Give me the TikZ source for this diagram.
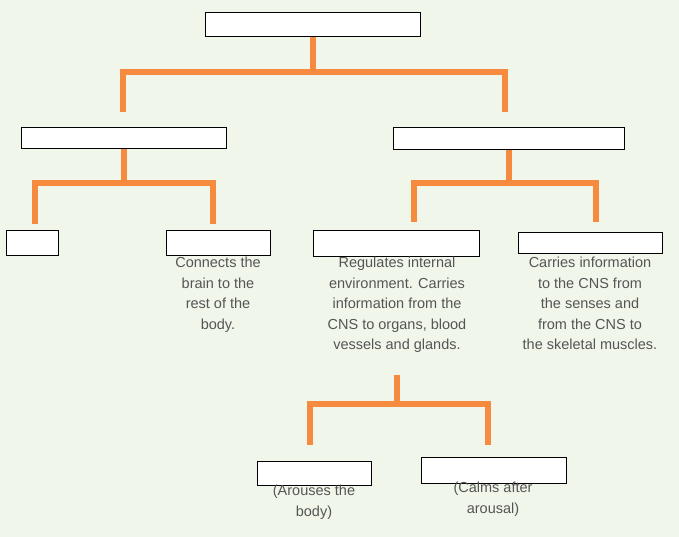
\documentclass[tikz,border=0pt]{standalone}
\usepackage{fontspec}
\setmainfont{Liberation Sans}
\definecolor{bg}{RGB}{241,246,234}
\definecolor{org}{RGB}{246,139,63}
\definecolor{txt}{RGB}{85,85,85}
\begin{document}
\begin{tikzpicture}[x=1pt,y=-1pt,
  box/.style={draw=black,fill=white,line width=1.2pt,inner sep=0pt,anchor=north west},
  br/.style={draw=org,line width=6.5pt},
  desc/.style={text=txt,font=\fontsize{14.5}{20.5}\selectfont,align=center,anchor=north,inner sep=1pt}]
\fill[bg] (0,0) rectangle (679,537);
\useasboundingbox (0,0) rectangle (679,537);
\node[box,minimum width=215,minimum height=24] (top) at (205,12) {};
\node[box,minimum width=205,minimum height=21] (L) at (21,127) {};
\node[box,minimum width=231,minimum height=22] (R) at (393,127) {};
\node[box,minimum width=52,minimum height=25] (A) at (6,230) {};
\node[box,minimum width=104,minimum height=25] (B) at (166,230) {};
\node[box,minimum width=166,minimum height=26] (C) at (313,230) {};
\node[box,minimum width=144,minimum height=21] (D) at (518,232) {};
\node[box,minimum width=114,minimum height=24] (E) at (257,461) {};
\node[box,minimum width=145,minimum height=26] (F) at (421,457) {};
\node[desc] (tB) at (218,256) {Connects the\\brain to the\\rest of the\\body.};
\node[desc] (tC) at (397,256) {Regulates internal\\environment. Carries\\information from the\\CNS to organs, blood\\vessels and glands.};
\node[desc] (tD) at (590,256) {Carries information\\to the CNS from\\the senses and\\from the CNS to\\the skeletal muscles.};
\node[desc] (tE) at (314,484) {(Arouses the\\body)};
\node[desc] (tF) at (493,481) {(Calms after\\arousal)};
\coordinate (j1) at (312.5,72);
\draw[br] (top.south) -- (top.south |- j1);
\draw[br] (123,112) -- (123,72) -- (505,72) -- (505,112);
\coordinate (j2) at (123,183);
\draw[br] (L.south) -- (L.south |- j2);
\draw[br] (35,224) -- (35,183) -- (213,183) -- (213,224);
\coordinate (j3) at (503,183);
\draw[br] (R.south) -- (R.south |- j3);
\draw[br] (414,222) -- (414,183) -- (596,183) -- (596,222);
\coordinate (j4) at (397,404);
\draw[br] (397,375) -- (j4);
\draw[br] (310,445) -- (310,404) -- (488,404) -- (488,445);
\end{tikzpicture}
\end{document}
